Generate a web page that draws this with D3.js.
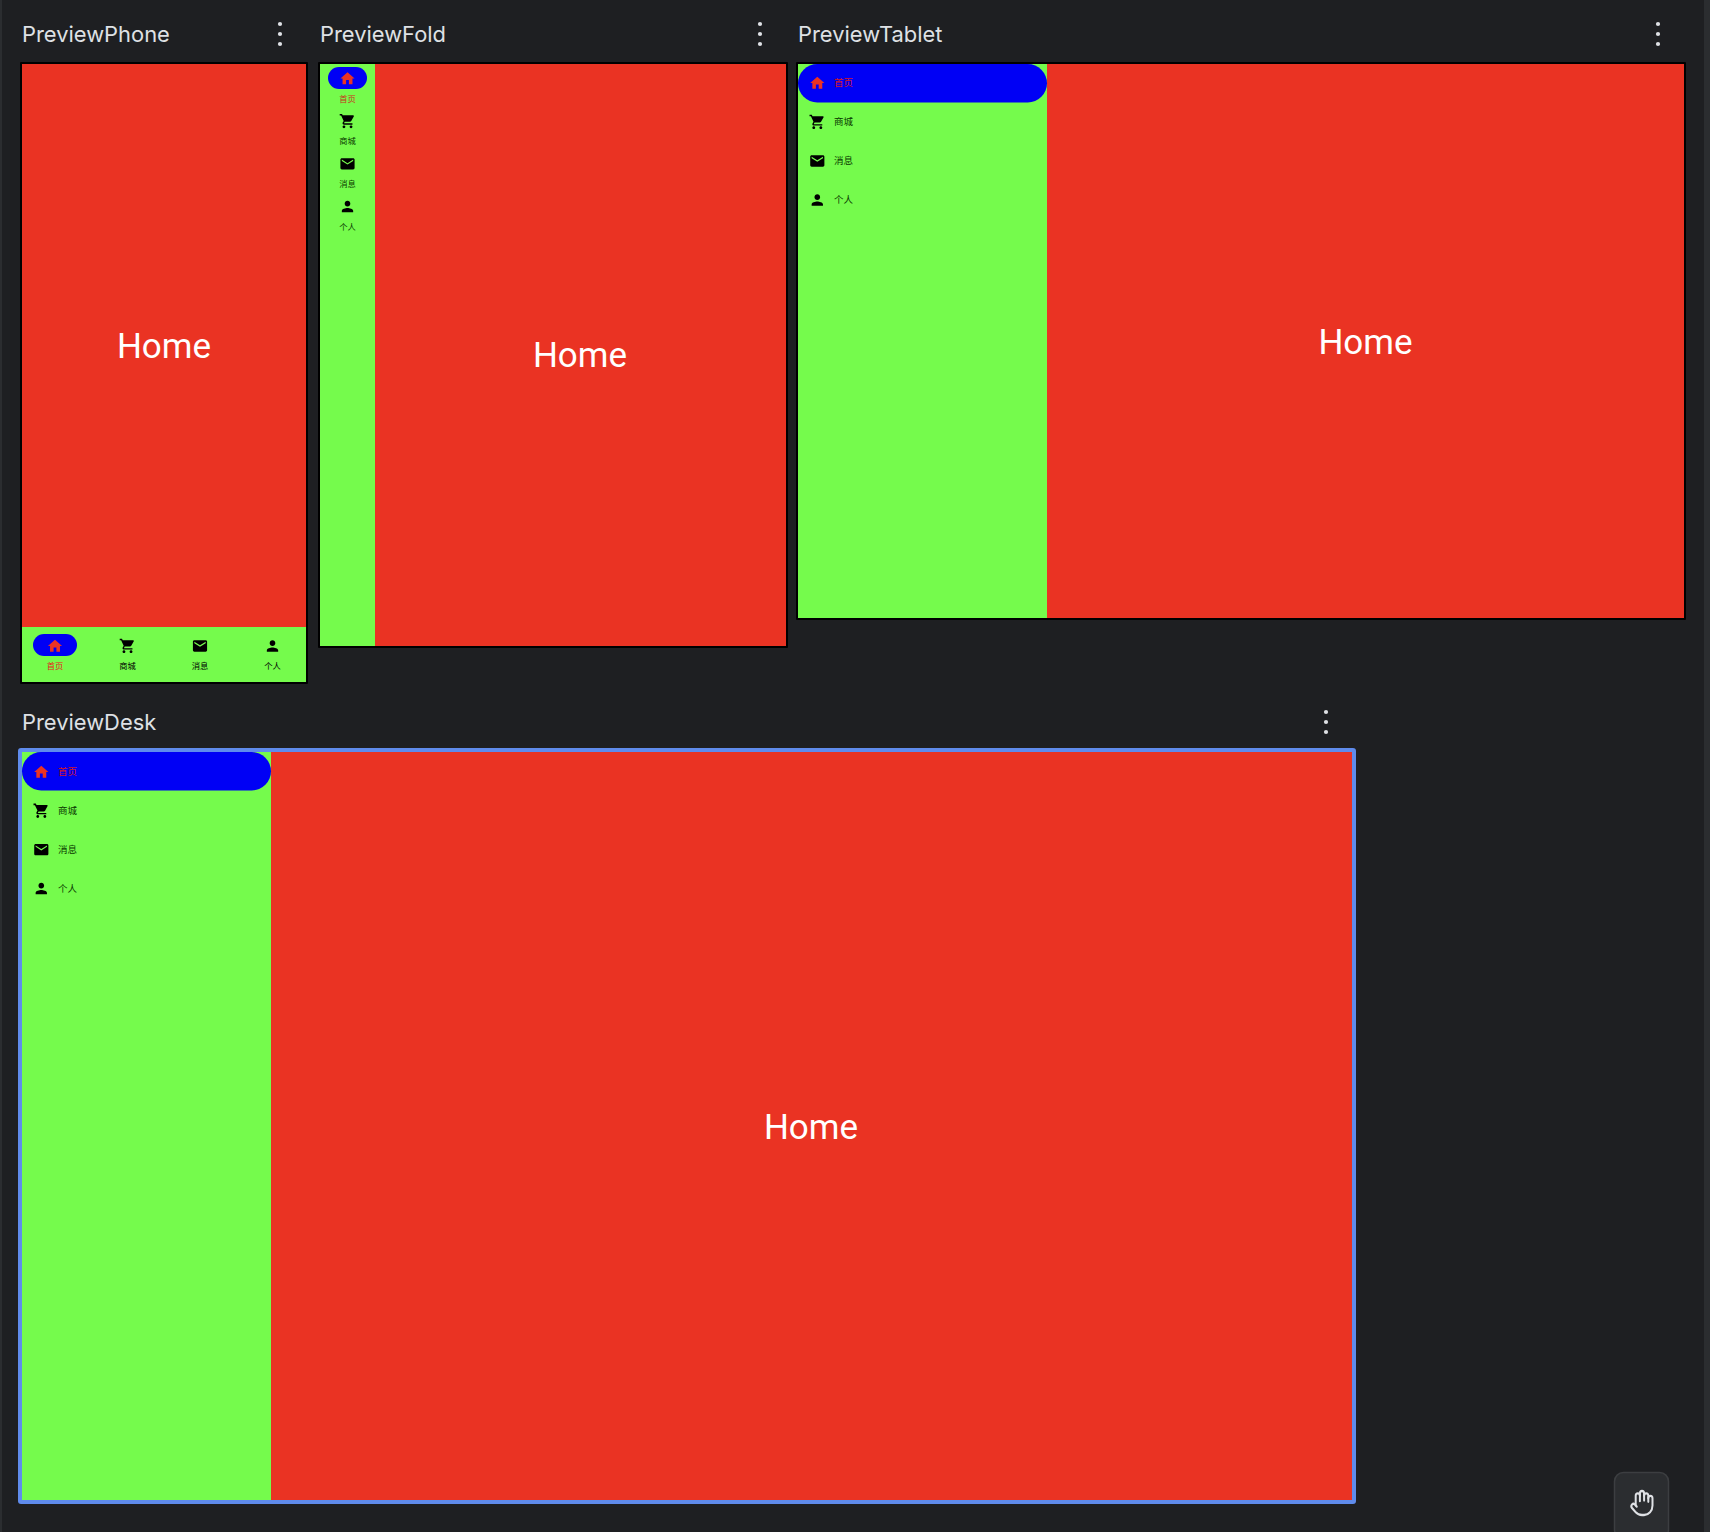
<!DOCTYPE html>
<html><head><meta charset="utf-8">
<style>html,body{margin:0;padding:0;background:#1e1f22;overflow:hidden}svg{display:block}</style>
<script src="https://cdn.jsdelivr.net/npm/d3@7/dist/d3.min.js"></script>
</head><body><div id="c"></div>
<script>
const previewNames = ["PreviewPhone","PreviewFold","PreviewTablet","PreviewDesk"];
const navLabels = ["首页","商城","消息","个人"];
const contentLabel = "Home";
const selectedIndex = 0;
const icons = [
 "M10 20v-6h4v6h5v-8h3L12 3 2 12h3v8z",
 "M7 18c-1.1 0-1.99.9-1.99 2S5.9 22 7 22s2-.9 2-2-.9-2-2-2zM1 2v2h2l3.6 7.59-1.35 2.45c-.16.28-.25.61-.25.96 0 1.1.9 2 2 2h12v-2H7.42c-.14 0-.25-.11-.25-.25l.03-.12.9-1.83h7.45c.75 0 1.41-.41 1.75-1.03l3.58-6.49c.08-.14.12-.31.12-.48 0-.55-.45-1-1-1H5.21l-.94-2H1zm16 16c-1.1 0-1.99.9-1.99 2s.89 2 1.99 2 2-.9 2-2-.9-2-2-2z",
 "M20 4H4c-1.1 0-1.99.9-1.99 2L2 18c0 1.1.9 2 2 2h16c1.1 0 2-.9 2-2V6c0-1.1-.9-2-2-2zm0 4l-8 5-8-5V6l8 5 8-5v2z",
 "M12 12c2.21 0 4-1.79 4-4s-1.79-4-4-4-4 1.79-4 4 1.79 4 4 4zm0 2c-2.67 0-8 1.34-8 4v2h16v-2c0-2.66-5.33-4-8-4z"];
const handPaths = ["M18 11V6a2 2 0 0 0-2-2a2 2 0 0 0-2 2","M14 10V4a2 2 0 0 0-2-2a2 2 0 0 0-2 2v2","M10 10.5V6a2 2 0 0 0-2-2a2 2 0 0 0-2 2v8","M18 8a2 2 0 1 1 4 0v6a8 8 0 0 1-8 8h-2c-2.8 0-4.5-.86-5.99-2.34l-3.6-3.6a2 2 0 0 1 2.83-2.82L7 15"];

const C = {bg:"#1e1f22",strip:"#2b2d30",red:"#ea3323",green:"#75fb4c",blue:"#0000f5",title:"#dfe1e5",sel:"#5f8bec"};
const W=1710,H=1532;
const svg=d3.select("#c").append("svg").attr("width",W).attr("height",H).attr("viewBox",`0 0 ${W} ${H}`);
svg.append("rect").attr("width",W).attr("height",H).attr("fill",C.bg);
svg.append("rect").attr("x",1704).attr("width",6).attr("height",H).attr("fill",C.strip);
svg.append("rect").attr("width",2).attr("height",H).attr("fill",C.strip);

const cjk='"Noto Sans CJK SC",sans-serif';
function icon(g,i,cx,cy,size,fill){
  const s=size/24;
  g.append("path").attr("d",icons[i]).attr("fill",fill)
   .attr("transform",`translate(${cx-size/2},${cy-size/2}) scale(${s})`);
}
function label(g,t,x,y,size,fill,anchor){
  g.append("text").text(t).attr("x",x).attr("y",y-0.8).attr("fill",fill)
   .attr("font-family",cjk).attr("font-size",size).attr("text-anchor",anchor)
   .attr("dominant-baseline","central");
}
function header(name,x,by,dotX){
  svg.append("text").text(name).attr("x",x).attr("y",by).attr("fill",C.title)
    .attr("font-family","Inter,sans-serif").attr("font-size",21.9).attr("font-weight",400);
  svg.selectAll(null).data([-10,0,10]).join("circle").attr("cx",dotX).attr("cy",d=>by-8+d)
    .attr("r",2.1).attr("fill",C.title);
}
function frame(x0,y0,x1,y1,bw,stroke,rx){
  svg.append("rect").attr("x",x0-bw).attr("y",y0-bw).attr("width",x1-x0+2*bw).attr("height",y1-y0+2*bw)
    .attr("rx",rx).attr("fill",stroke);
  svg.append("rect").attr("x",x0).attr("y",y0).attr("width",x1-x0).attr("height",y1-y0).attr("fill",C.red);
}
function home(x,y){
  svg.append("text").text(contentLabel).attr("x",x).attr("y",y).attr("fill","#fff")
    .attr("font-family","Roboto,sans-serif").attr("font-size",35).attr("text-anchor","middle")
    .attr("dominant-baseline","central");
}
function drawer(x0,x1,y0,iconYs,iconX,textX){
  svg.append("rect").attr("x",x0).attr("y",y0.top).attr("width",x1-x0).attr("height",y0.bottom-y0.top).attr("fill",C.green);
  svg.append("rect").attr("x",x0).attr("y",y0.top).attr("width",x1-x0).attr("height",38.5).attr("rx",19.25).attr("fill",C.blue);
  const g=svg.append("g");
  const y=d3.scalePoint().domain(d3.range(navLabels.length)).range(iconYs);
  navLabels.forEach((t,i)=>{
    icon(g,i,iconX,y(i),17,i===selectedIndex?C.red:"#000");
    label(g,t,textX,y(i),9.5,i===selectedIndex?"#d4181f":"#0b3a00","start");
  });
}

// Phone
header(previewNames[0],22,42,280);
frame(22,64,306,682,2,"#000",1);
home(164,346);
svg.append("rect").attr("x",22).attr("y",627).attr("width",284).attr("height",55).attr("fill",C.green);
{
  const x=d3.scalePoint().domain(d3.range(navLabels.length)).range([55,272.5]);
  svg.append("rect").attr("x",x(0)-22).attr("y",634).attr("width",44).attr("height",22).attr("rx",11).attr("fill",C.blue);
  const g=svg.append("g");
  navLabels.forEach((t,i)=>{
    icon(g,i,x(i),646,17,i===selectedIndex?C.red:"#000");
    label(g,t,x(i),665.5,8.3,i===selectedIndex?"#ea2020":"#000","middle");
  });
}
// Fold
header(previewNames[1],320,42,760);
frame(320,64,786,646,2,"#000",1);
home(580,355.5);
svg.append("rect").attr("x",320).attr("y",64).attr("width",55).attr("height",582).attr("fill",C.green);
{
  const y=d3.scalePoint().domain(d3.range(navLabels.length)).range([78.5,206.5]);
  svg.append("rect").attr("x",328).attr("y",67).attr("width",39).attr("height",22).attr("rx",11).attr("fill",C.blue);
  const g=svg.append("g");
  navLabels.forEach((t,i)=>{
    icon(g,i,347.5,y(i),17,i===selectedIndex?C.red:"#000");
    label(g,t,347.5,y(i)+20,8.3,i===selectedIndex?"#c8301c":"#0b3a00","middle");
  });
}
// Tablet
header(previewNames[2],798,42,1658);
frame(798,64,1684,618,2,"#000",1);
home(1365.5,342);
drawer(798,1047,{top:64,bottom:618},[83,200],817.3,834);
// Desk
header(previewNames[3],22,730,1326);
frame(22,752,1352,1500,4,C.sel,3);
home(811,1127);
drawer(22,271,{top:752,bottom:1500},[772,888.5],41.3,58);

// Hand tool button
svg.append("rect").attr("x",1614.5).attr("y",1472.5).attr("width",54).attr("height",66).attr("rx",9)
  .attr("fill",C.strip).attr("stroke","#3c3e41").attr("stroke-width",1.5);
const hg=svg.append("g").attr("transform",`translate(${1642-12.6},${1503-14.4}) scale(1.05,1.2)`);
hg.selectAll("path").data(handPaths).join("path").attr("d",d=>d).attr("fill","none")
  .attr("stroke",C.title).attr("stroke-width",1.9).attr("stroke-linecap","round").attr("stroke-linejoin","round");
</script></body></html>
